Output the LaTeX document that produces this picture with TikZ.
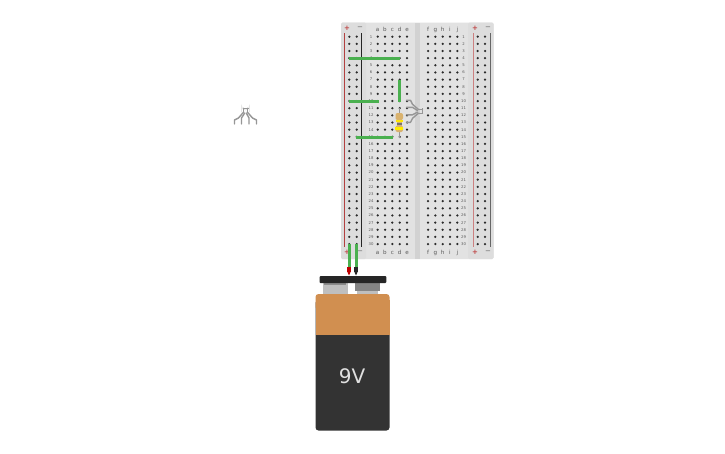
\documentclass[tikz,border=0pt]{standalone}
\usepackage{fontspec}
\setmainfont{DejaVu Sans}
\definecolor{bb}{HTML}{E2E2E2}
\definecolor{bbrail}{HTML}{DDDDDD}
\definecolor{bbgap}{HTML}{D2D2D2}
\definecolor{hole}{HTML}{2A2A2A}
\definecolor{wiregreen}{HTML}{4AB04F}
\definecolor{orangebat}{HTML}{D18F50}
\definecolor{darkbat}{HTML}{333333}
\definecolor{legs}{HTML}{969696}
\definecolor{tan}{HTML}{D9B26E}
\tikzset{
  x=1pt,y=-1pt,
  wire/.style={draw=wiregreen,line width=3pt},
  tiny label/.style={font=\fontsize{3.8}{4}\selectfont,text=black!65,inner sep=0pt},
  letter label/.style={font=\fontsize{5.6}{6}\selectfont,text=black!65,inner sep=0pt,anchor=base},
  rail/.style={line width=1pt},
  ledleg/.style={draw=legs,line width=1.4pt,line cap=round,line join=round},
}
\newcommand{\hole}[2]{\fill[hole] (#1,#2) circle (1.25pt);}
\newcommand{\ledicon}{%
  \draw[draw=black!10,line width=0.7pt] (-4,-3) -- (-4,-9) arc (180:0:4) -- (4,-3);
  \draw[draw=legs,line width=0.9pt] (-3,-7) -- (3,-7);
  \draw[ledleg,line width=1pt] (-1.8,-7) -- (-1.8,-3);
  \draw[ledleg,line width=1pt] (1.8,-7) -- (1.8,-3);
  \draw[ledleg] (-1.8,-3) -- (-7,3) -- (-11,5) -- (-11,9);
  \draw[ledleg] (-0.8,-2) -- (-4,3) -- (-4,9);
  \draw[ledleg] (0.8,-2) -- (3.5,3) -- (3.5,9);
  \draw[ledleg] (1.8,-3) -- (7,3) -- (11,5) -- (11,9);
}
\begin{document}
\begin{tikzpicture}
\useasboundingbox (0,0) rectangle (725,453);
\fill[white] (0,0) rectangle (725,453);
% breadboard
\fill[bb,rounded corners=1.5pt] (341,22.5) rectangle (493.5,259);
\fill[bbrail,rounded corners=1.5pt] (341,22.5) rectangle (366,259);
\fill[bbrail,rounded corners=1.5pt] (468,22.5) rectangle (493.5,259);
\fill[bbgap] (415,22.5) rectangle (420,259);
% rail lines
\draw[rail,draw=red!60!black!75] (344.3,33) -- (344.3,247);
\draw[rail,draw=black!85] (361.5,33) -- (361.5,247);
\draw[rail,draw=red!60!black!50] (473,33) -- (473,247);
\draw[rail,draw=black!60] (490,33) -- (490,247);
% rail signs
\foreach \yy in {28,252}{
  \node[font=\fontsize{7}{7}\selectfont\bfseries,text=red!70!black,opacity=.7,inner sep=0pt] (pl\yy) at (347,\yy) {+};
  \node[font=\fontsize{7}{7}\selectfont,text=black!60,inner sep=0pt] (mi\yy) at (360,\yy) {−};
  \node[font=\fontsize{7}{7}\selectfont\bfseries,text=red!70!black,opacity=.7,inner sep=0pt] (pr\yy) at (475,\yy) {+};
  \node[font=\fontsize{7}{7}\selectfont,text=black!60,inner sep=0pt] (mr\yy) at (488,\yy) {−};
}
% holes and numbers
\foreach \r in {1,...,30}{
  \pgfmathsetmacro{\yy}{36.7+(\r-1)*7.15}
  \foreach \xx in {349.3,356.7,377.7,385,392.3,399.7,407,428,435.3,442.7,450,457.3,477.7,485}{
    \hole{\xx}{\yy}
  }
  \node[tiny label] (nl\r) at (371,\yy) {\r};
  \node[tiny label] (nr\r) at (463.5,\yy) {\r};
}
% letters
\foreach \yy in {31,254}{
  \foreach \l/\xx in {a/377.7,b/385,c/392.3,d/399.7,e/407,f/428,g/435.3,h/442.7,i/450,j/457.3}{
    \node[letter label] (let\l\yy) at (\xx,\yy) {\l};
  }
}
% wires
\coordinate (w1a) at (348.5,58); \coordinate (w1b) at (400,58);
\coordinate (w2a) at (348.5,101); \coordinate (w2b) at (379,101);
\coordinate (w3a) at (355.5,137); \coordinate (w3b) at (393,137);
\coordinate (w4a) at (399.3,79.5); \coordinate (w4b) at (399.3,101.5);
\draw[wire] (w1a) -- (w1b);
\draw[wire] (w2a) -- (w2b);
\draw[wire] (w3a) -- (w3b);
\draw[wire,line width=2.4pt] (w4a) -- (w4b);
% resistor
\draw[draw=legs,line width=1.2pt] (399.3,107.5) -- (399.3,137.5);
\fill[tan,rounded corners=2pt] (395.5,113) rectangle (403,120);
\fill[tan] (396.5,118) rectangle (402,128);
\fill[tan,rounded corners=2pt] (395.5,125.5) rectangle (403,132);
\fill[yellow!90!orange] (395.8,119.5) rectangle (402.8,122);
\fill[black!55] (396.5,122.8) rectangle (402,124.8);
\fill[yellow!95!orange] (395.3,127.3) rectangle (403.2,130);
% LED on board (rotated)
\begin{scope}[shift={(415.5,111.3)},rotate=-90]
  \ledicon
\end{scope}
% loose LED
\begin{scope}[shift={(245.5,115)}]
  \ledicon
\end{scope}
% battery
\fill[black!25] (323,283) rectangle (347.5,294);
\fill[black!45] (324,283) rectangle (346,285);
\fill[black!48] (354.5,283) rectangle (380,290.5);
\fill[black!25] (356.5,290.5) rectangle (378,294.5);
\fill[black!85,rounded corners=1pt] (319.5,276) rectangle (386.3,283);
\fill[darkbat,rounded corners=3pt] (315.5,300) rectangle (389.5,430.5);
\fill[orangebat,rounded corners=3pt] (315.5,294) rectangle (389.5,310);
\fill[orangebat] (315.5,300) rectangle (389.5,335);
\node[font=\fontsize{20}{22}\selectfont,text=black!12,inner sep=0pt] (nine) at (352,376) {9V};
% battery leads
\coordinate (lr) at (349,244); \coordinate (lrb) at (349,269);
\coordinate (lk) at (356,244); \coordinate (lkb) at (356,269);
\draw[wire] (lr) -- (lrb);
\draw[wire] (lk) -- (lkb);
\fill[red!75!black] (347.2,266.5) rectangle (350.8,271.5);
\fill[red!75!black] (347.2,271.5) -- (350.8,271.5) -- (349,275.5) -- cycle;
\fill[black!85] (354.2,266.5) rectangle (357.8,271.5);
\fill[black!85] (354.2,271.5) -- (357.8,271.5) -- (356,275.5) -- cycle;
\end{tikzpicture}
\end{document}
